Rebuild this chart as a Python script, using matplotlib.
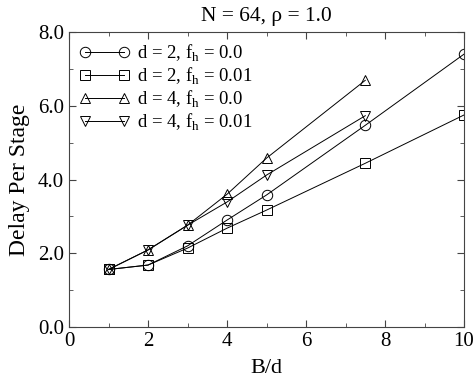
import numpy as np
import matplotlib
matplotlib.use('Agg')
import matplotlib.pyplot as plt
from matplotlib.ticker import MultipleLocator, FormatStrFormatter

plt.rcParams['font.family'] = 'Liberation Serif'
plt.rcParams['mathtext.fontset'] = 'custom'
plt.rcParams['mathtext.rm'] = 'Liberation Serif'

# valores
bd = [1, 2, 3, 4, 5, 7.5, 10]
bd4 = [1, 2, 3, 4, 5, 7.5]
d2_f00 = [1.56, 1.68, 2.20, 2.90, 3.58, 5.47, 7.40]
d2_f01 = [1.56, 1.68, 2.14, 2.68, 3.17, 4.44, 5.75]
d4_f00 = [1.56, 2.09, 2.76, 3.60, 4.58, 6.69]
d4_f01 = [1.56, 2.09, 2.76, 3.39, 4.12, 5.73]

labels = [r'd = 2, f$_\mathrm{h}$ = 0.0', r'd = 2, f$_\mathrm{h}$ = 0.01',
          r'd = 4, f$_\mathrm{h}$ = 0.0', r'd = 4, f$_\mathrm{h}$ = 0.01']

fig = plt.figure(figsize=(4.74, 3.84), dpi=100)
ax = fig.add_axes([0.1456, 0.1484, 0.979 - 0.1456, 0.9167 - 0.1484])

estilo = dict(color='black', lw=0.7, markersize=7.5, markerfacecolor='none',
              markeredgewidth=0.7)
ax.plot(bd, d2_f00, marker='o', label=labels[0], **estilo)
ax.plot(bd, d2_f01, marker='s', label=labels[1], **estilo)
ax.plot(bd4, d4_f00, marker='^', label=labels[2], **estilo)
ax.plot(bd4, d4_f01, marker='v', label=labels[3], **estilo)

ax.set_xlim(0, 10)
ax.set_ylim(0, 8)
ax.xaxis.set_major_locator(MultipleLocator(2))
ax.xaxis.set_minor_locator(MultipleLocator(1))
ax.yaxis.set_major_locator(MultipleLocator(2))
ax.yaxis.set_minor_locator(MultipleLocator(1))
ax.yaxis.set_major_formatter(FormatStrFormatter('%.1f'))
ax.tick_params(which='both', direction='in', top=True, right=True,
               labelsize=15, color='#444444')
ax.tick_params(which='major', length=5)
ax.tick_params(which='minor', length=3)
for s in ax.spines.values():
    s.set_color('#444444')

ax.set_xlabel('B/d', fontsize=16, labelpad=6)
ax.set_ylabel('Delay Per Stage', fontsize=17, labelpad=6)
ax.set_title('N = 64, ρ = 1.0', fontsize=15.5, pad=8)

ax.legend(loc='upper left', frameon=False, fontsize=13.5, numpoints=2,
          handlelength=2.7, handletextpad=0.4, labelspacing=0.1,
          borderaxespad=0.15)

fig.savefig('out.png', dpi=100)
